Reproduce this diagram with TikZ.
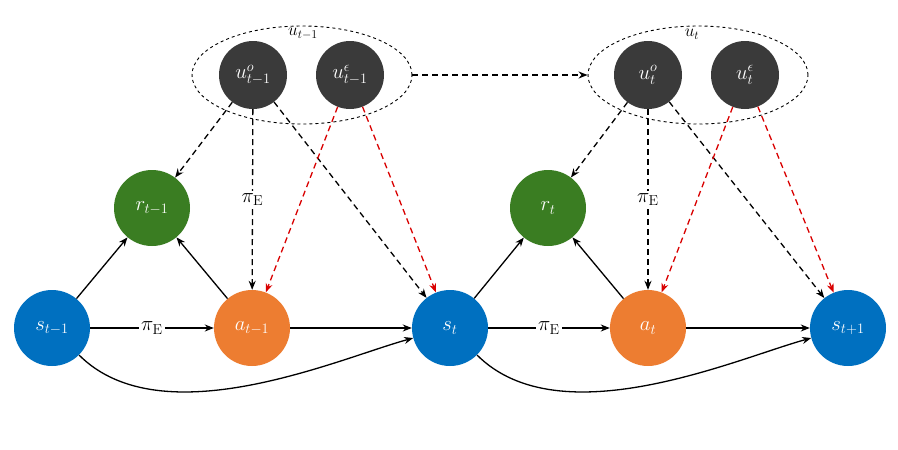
\documentclass[tikz,border=0pt]{standalone}
\usetikzlibrary{arrows.meta,shapes.geometric}
\definecolor{cb}{HTML}{0070C0}
\definecolor{co}{HTML}{ED7D31}
\definecolor{cg}{HTML}{3A7D22}
\definecolor{cd}{HTML}{3A3A3A}
\begin{document}
\begin{tikzpicture}[x=1pt,y=-1pt,
 big/.style={circle,minimum size=76pt,inner sep=0pt,text=white,font=\fontsize{20}{22}\selectfont},
 sm/.style={circle,minimum size=68pt,inner sep=0pt,fill=cd,text=white,font=\fontsize{20}{22}\selectfont},
 ar/.style={-{Stealth[length=9pt,width=7pt]},line width=1.3pt},
 da/.style={ar,dashed,dash pattern=on 6pt off 4pt},
 rd/.style={da,red!85!black},
 lab/.style={font=\fontsize{20}{22}\selectfont,fill=white,inner sep=2pt},
 grp/.style={draw,dashed,ellipse,minimum width=220pt,minimum height=98pt,line width=0.9pt}]
\useasboundingbox (0,0) rectangle (898,450);
\node[big,fill=cb] (s1) at (52,328) {$s_{t-1}$};
\node[big,fill=co] (a1) at (252,328) {$a_{t-1}$};
\node[big,fill=cb] (s2) at (450,328) {$s_t$};
\node[big,fill=co] (a2) at (648,328) {$a_t$};
\node[big,fill=cb] (s3) at (848,328) {$s_{t+1}$};
\node[big,fill=cg] (r1) at (152,208) {$r_{t-1}$};
\node[big,fill=cg] (r2) at (548,208) {$r_t$};
\node[sm] (uo1) at (253,75) {$u^{o}_{t-1}$};
\node[sm] (ue1) at (350,75) {$u^{\epsilon}_{t-1}$};
\node[sm] (uo2) at (648,75) {$u^{o}_{t}$};
\node[sm] (ue2) at (745,75) {$u^{\epsilon}_{t}$};
\node[grp] (e1) at (302,75) {};
\node[grp] (e2) at (698,75) {};
\node[font=\fontsize{18}{20}\selectfont,fill=white,inner sep=1pt] (l1) at (303,34) {$u_{t-1}$};
\node[font=\fontsize{18}{20}\selectfont,fill=white,inner sep=1pt] (l2) at (692,34) {$u_{t}$};
\draw[da] (e1) -- (e2);
\foreach \s/\a/\r/\n/\uo/\ue in {s1/a1/r1/s2/uo1/ue1, s2/a2/r2/s3/uo2/ue2}{
 \draw[ar] (\s) -- (\r);
 \draw[ar] (\a) -- (\r);
 \draw[ar] (\s) -- node[lab]{$\pi_{\mathrm{E}}$} (\a);
 \draw[ar] (\a) -- (\n);
 \draw[ar] (\s) .. controls +(110,110) and +(-110,30) .. (\n);
 \draw[da] (\uo) -- (\r);
 \draw[da] (\uo) -- node[lab]{$\pi_{\mathrm{E}}$} (\a);
 \draw[da] (\uo) -- (\n);
 \draw[rd] (\ue) -- (\a);
 \draw[rd] (\ue) -- (\n);
}
\end{tikzpicture}
\end{document}
